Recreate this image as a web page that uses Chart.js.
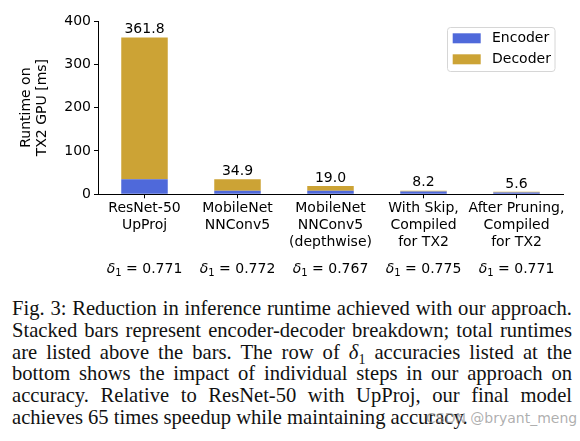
<!DOCTYPE html>
<html>
<head>
<meta charset="utf-8">
<script src="https://cdn.jsdelivr.net/npm/chart.js@4"></script>
<style>
  html, body { margin:0; padding:0; background:#fff; }
  #wrap { position:relative; width:580px; height:441px; overflow:hidden; }
  #cv { position:absolute; left:0; top:0; }
  #caption { position:absolute; left:12px; top:298px; width:560px; font-family:"Liberation Serif","Times New Roman",serif; font-size:20.6px; line-height:21.8px; color:#111; }
  .ln { text-align:justify; text-align-last:justify; white-space:nowrap; }
  .last { text-align:left; text-align-last:left; }
  #wm { position:absolute; left:426px; top:410px; white-space:nowrap; font-family:"DejaVu Sans",sans-serif; font-size:14px; color:rgba(140,140,140,0.7); }
</style>
</head>
<body>
<div id="wrap">
  <canvas id="cv" width="580" height="290"></canvas>
  <div id="caption">
    <div class="ln">Fig. 3: Reduction in inference runtime achieved with our approach.</div>
    <div class="ln">Stacked bars represent encoder-decoder breakdown; total runtimes</div>
    <div class="ln">are listed above the bars. The row of <i>δ</i><sub style="font-size:14px;line-height:0">1</sub> accuracies listed at the</div>
    <div class="ln">bottom shows the impact of individual steps in our approach on</div>
    <div class="ln">accuracy. Relative to ResNet-50 with UpProj, our final model</div>
    <div class="ln last">achieves 65 times speedup while maintaining accuracy.</div>
  </div>
  <div id="wm">CSDN @bryant_meng</div>
</div>
<script>
const categories = [
  ['ResNet-50', 'UpProj'],
  ['MobileNet', 'NNConv5'],
  ['MobileNet', 'NNConv5', '(depthwise)'],
  ['With Skip,', 'Compiled', 'for TX2'],
  ['After Pruning,', 'Compiled', 'for TX2']
];
const encoderMs = [35.0, 8.2, 8.0, 6.6, 3.9];
const decoderMs = [326.8, 26.7, 11.0, 1.6, 1.7];
const totalLabels = ['361.8', '34.9', '19.0', '8.2', '5.6'];
const deltaAcc = ['0.771', '0.772', '0.767', '0.775', '0.771'];
const yTicks = [0, 100, 200, 300, 400];

const ENC = '#4f69da';
const DEC = '#cca335';
const FONT = '"DejaVu Sans", sans-serif';

const overlay = {
  id: 'overlay',
  afterDatasetsDraw(chart) {
    const ctx = chart.ctx;
    const x = chart.scales.x, y = chart.scales.y;
    ctx.save();
    ctx.fillStyle = '#000';
    ctx.font = '14px ' + FONT;
    ctx.textAlign = 'center';
    ctx.textBaseline = 'bottom';
    totalLabels.forEach((t, i) => {
      const top = y.getPixelForValue(encoderMs[i] + decoderMs[i]);
      ctx.fillText(t, x.getPixelForValue(i), top - 1);
    });
    deltaAcc.forEach((v, i) => {
      const cx = x.getPixelForValue(i);
      const by = 273;
      const fMain = '14px ' + FONT, fIt = 'italic 14px ' + FONT, fSub = '10px ' + FONT;
      ctx.font = fIt; const wD = ctx.measureText('δ').width;
      ctx.font = fSub; const wS = ctx.measureText('1').width;
      ctx.font = fMain; const rest = ' = ' + v; const wR = ctx.measureText(rest).width;
      const total = wD + wS + wR;
      let px = cx - total / 2;
      ctx.textAlign = 'left'; ctx.textBaseline = 'alphabetic';
      ctx.font = fIt; ctx.fillText('δ', px, by); px += wD;
      ctx.font = fSub; ctx.fillText('1', px, by + 3); px += wS;
      ctx.font = fMain; ctx.fillText(rest, px, by);
    });
    const lx = 447.5, ly = 27.5, lw = 107.5, lh = 44;
    ctx.beginPath();
    if (ctx.roundRect) ctx.roundRect(lx, ly, lw, lh, 3); else ctx.rect(lx, ly, lw, lh);
    ctx.fillStyle = 'rgba(255,255,255,0.9)';
    ctx.fill();
    ctx.strokeStyle = '#d6d6d6';
    ctx.lineWidth = 1;
    ctx.stroke();
    chart.data.datasets.forEach((ds, i) => {
      const cy = 38.3 + i * 21;
      ctx.fillStyle = ds.backgroundColor;
      ctx.fillRect(452.7, cy - 5, 28, 10);
      ctx.fillStyle = '#000';
      ctx.font = '14px ' + FONT;
      ctx.textAlign = 'left';
      ctx.textBaseline = 'middle';
      ctx.fillText(ds.label, 492, cy + 0.5);
    });
    ctx.restore();
  }
};

new Chart(document.getElementById('cv'), {
  type: 'bar',
  data: {
    labels: categories,
    datasets: [
      { label: 'Encoder', data: encoderMs, backgroundColor: ENC, barPercentage: 0.5, categoryPercentage: 1.0 },
      { label: 'Decoder', data: decoderMs, backgroundColor: DEC, barPercentage: 0.5, categoryPercentage: 1.0 }
    ]
  },
  options: {
    responsive: false,
    animation: false,
    devicePixelRatio: 1,
    layout: { padding: { top: 21, right: 17, left: 0, bottom: 0 } },
    plugins: { legend: { display: false }, tooltip: { enabled: false } },
    scales: {
      x: {
        stacked: true,
        offset: true,
        grid: { offset: false, drawOnChartArea: false, drawTicks: true, tickLength: 4, color: '#000' },
        border: { display: true, color: '#000', width: 1 },
        ticks: { color: '#000', font: { family: FONT, size: 14 }, padding: 2, maxRotation: 0, autoSkip: false },
        afterFit: s => { s.height = 290 - 194.3; }
      },
      y: {
        stacked: true,
        min: 0, max: 400,
        afterBuildTicks: s => { s.ticks = yTicks.map(v => ({ value: v })); },
        grid: { drawOnChartArea: false, drawTicks: true, tickLength: 4, color: '#000' },
        border: { display: true, color: '#000', width: 1 },
        ticks: { color: '#000', font: { family: FONT, size: 14 }, padding: 3 },
        title: { display: true, text: ['Runtime on', 'TX2 GPU [ms]'], color: '#000', font: { family: FONT, size: 14, lineHeight: 1.15 }, padding: { top: 18, bottom: 0 } },
        afterFit: s => { s.width = 98; }
      }
    }
  },
  plugins: [overlay]
});
</script>
</body>
</html>
